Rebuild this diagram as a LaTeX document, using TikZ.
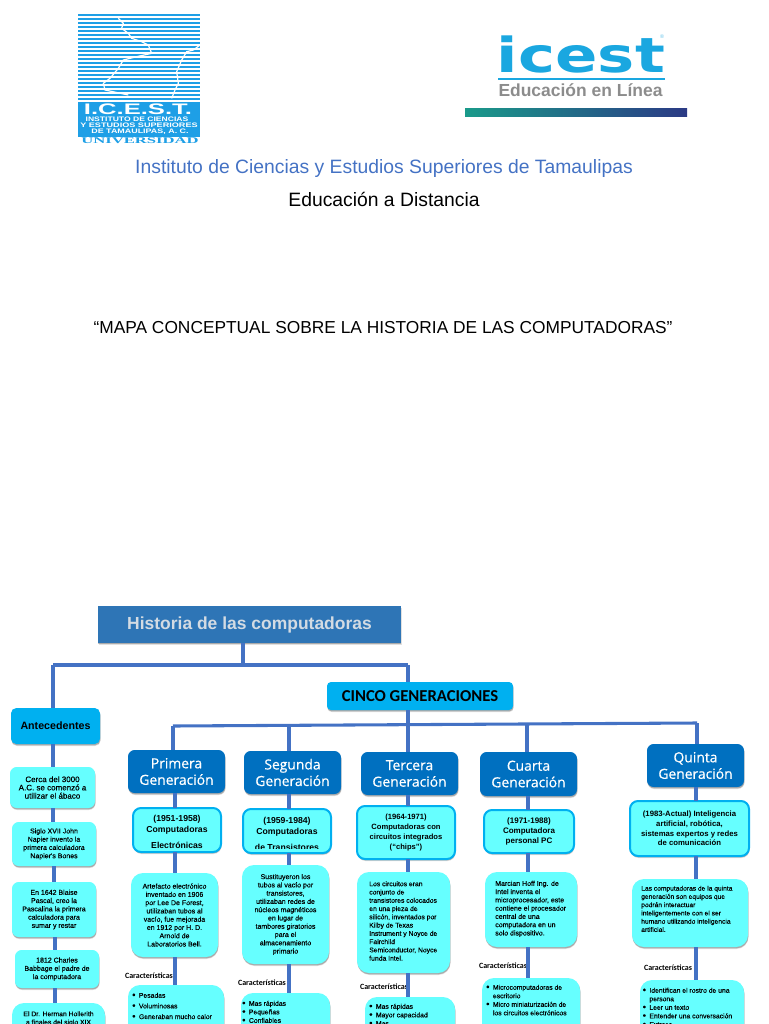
\documentclass[tikz,border=0pt]{standalone}
\usepackage{fontspec}
\usepackage{graphicx}
\setmainfont{Liberation Sans}
\newfontfamily\carl{Carlito}
\newfontfamily\nsans[RawFeature={embolden=0.5}]{Open Sans}
\newfontfamily\bodyf[RawFeature={embolden=0.25}]{Liberation Sans}
\newfontfamily\lserif{Liberation Serif}
\newfontfamily\heavy{DejaVu Sans}
\usetikzlibrary{shadows}
\definecolor{linkblue}{HTML}{4472C4}
\definecolor{skyb}{HTML}{00B0F0}
\definecolor{aqua}{HTML}{66FFFF}
\definecolor{genblue}{HTML}{0070C0}
\definecolor{headblue}{HTML}{2E75B6}
\definecolor{headtxt}{HTML}{D3DBE3}
\definecolor{logob}{HTML}{1E9FE6}
\definecolor{icestb}{HTML}{1AA7E0}
\definecolor{gradL}{HTML}{1A9A8A}
\definecolor{gradR}{HTML}{2B3A85}
\newcommand{\fs}[2]{\fontsize{#1}{#2}\selectfont}
\newcommand{\wh}[3]{\resizebox{#1pt}{#2pt}{#3}}
\newcommand{\bx}[7]{\node[#2,minimum width={(#5-#3)*0.75pt},minimum height={(#6-#4)*0.75pt}] (#1) at ({(#3+#5)/2},{(#4+#6)/2}) {#7};}
\newcommand{\bl}{\makebox[5pt][l]{\raisebox{-.2pt}{\scalebox{1.35}{\textbullet}}}}
\newcommand{\ind}{\hspace*{5pt}}
\tikzset{
 softshadow/.style={general shadow={shadow xshift=0.4pt,shadow yshift=-1.5pt,fill=black,opacity=.12},general shadow={shadow xshift=0.3pt,shadow yshift=-1pt,fill=black,opacity=.24}},
 conn/.style={draw=linkblue,line width=2.3pt},
 base/.style={inner sep=0pt,outer sep=0pt,align=center,softshadow},
 head/.style={base,fill=headblue,text=headtxt,font=\bfseries\fs{13.1}{14}},
 cinco/.style={base,fill=skyb,rounded corners=3pt,text=black,font=\carl\bfseries\fs{12.5}{13}},
 ante/.style={base,fill=skyb,rounded corners=4pt,text=black,font=\bfseries\fs{8}{10}},
 gen/.style={base,fill=genblue,rounded corners=5pt,text=white,font=\nsans\fs{10.4}{12.4}},
 period/.style={base,fill=aqua,draw=skyb,line width=1.5pt,rounded corners=6pt,text=black,font=\bfseries\fs{6.5}{7.3}},
 info/.style={base,fill=aqua,rounded corners=5pt,text=black,font=\bodyf\fs{5.25}{6.2}},
 infobig/.style={info,rounded corners=9pt},
 blocktxt/.style={inner sep=0pt,align=center,text=black},
 sidetxt/.style={inner sep=0pt,align=left,anchor=north west,text=black},
 listtxt/.style={sidetxt,font=\bodyf\fs{5.1}{6.4}},
 carac/.style={inner sep=0pt,text=black,font=\carl\bfseries\fs{6}{7}},
 title/.style={inner sep=0pt,font=\fs{14.5}{16}}
}
\begin{document}
\begin{tikzpicture}[x=0.75pt,y=-0.75pt]
\useasboundingbox (0,0) rectangle (768,1024);
\clip (0,0) rectangle (768,1024);
% left logo
\foreach \yy in {15,19,...,99} {\draw[logob,line width=1.75pt] (78,\yy) -- (200,\yy);}
\begin{scope}[shift={(60,0)},x=.25pt,y=-.25pt]
\draw[white,line width=.9pt] (175,55)--(190,70)--(185,85)--(205,100)--(215,115)--(245,125)--(265,135)--(275,160)--(230,170)--(190,180)--(175,205)--(150,235)--(130,250)--(135,270)--(205,285);
\draw[white,line width=.9pt] (420,135)--(400,150)--(380,155)--(365,180)--(350,215)--(355,250)--(345,270)--(335,295);
\end{scope}
\fill[logob] (78,102) rectangle (200,137);
\node[inner sep=0pt,text=white] (lgA) at (138,109) {\wh{81}{8}{\bfseries I.C.E.S.T.}};
\node[inner sep=0pt,text=white] (lgB) at (137,119) {\wh{77}{3.4}{\bfseries INSTITUTO DE CIENCIAS}};
\node[inner sep=0pt,text=white] (lgC) at (139,125.2) {\wh{88}{3.4}{\bfseries Y ESTUDIOS SUPERIORES}};
\node[inner sep=0pt,text=white] (lgD) at (140,131.5) {\wh{73}{3.4}{\bfseries DE TAMAULIPAS, A. C.}};
\node[inner sep=0pt,text=logob] (lgE) at (140,141) {\wh{88}{4.4}{\lserif\bfseries UNIVERSIDAD}};
% right logo
\node[inner sep=0pt,text=icestb] (icest) at (581,54.5) {\resizebox{126pt}{27.5pt}{\heavy\bfseries icest}};
\node[inner sep=0pt,text=icestb!70,font=\fs{4}{4}] (reg) at (662,37) {®};
\fill[icestb] (498,78) rectangle (665,80);
\node[inner sep=0pt,text=black!45] (edu) at (580.5,90.5) {\resizebox{123pt}{!}{\bfseries Educación en Línea}};
\shade[left color=gradL,right color=gradR] (465,108) rectangle (687,116);
% titles
\node[title,text=linkblue] (t1) at (384,169) {Instituto de Ciencias y Estudios Superiores de Tamaulipas};
\node[title,text=black] (t2) at (384,199) {Educación a Distancia};
\node[inner sep=0pt,text=black,font=\fs{13}{14}] (t3) at (383,328) {“MAPA CONCEPTUAL SOBRE LA HISTORIA DE LAS COMPUTADORAS”};
% diagram nodes
\bx{hist}{head}{98}{606}{401}{643}{\raisebox{-1.8pt}{Historia de las computadoras}}
\bx{cg}{cinco}{327}{682}{513}{710}{CINCO GENERACIONES}
\bx{an}{ante}{11}{708}{100}{744}{Antecedentes}
\bx{a1}{info}{10}{767}{95}{808}{\fs{6}{7.3}Cerca del 3000\\\fs{6}{7.3}A.C. se comenzó a\\\fs{6}{7.3}utilizar el ábaco}
\bx{a2}{info}{12}{822}{96}{866}{Siglo XVII John\\Napier invento la\\primera calculadora\\Napier's Bones}
\bx{a3}{info}{12}{882}{96}{937}{En 1642 Blaise\\Pascal, creo la\\Pascalina la primera\\calculadora para\\sumar y restar}
\bx{a4}{info}{15}{950}{99}{988}{1812 Charles\\Babbage el padre de\\la computadora}
\bx{a5}{infobig}{12}{1003}{105}{1060}{}
\node[blocktxt,anchor=north,font=\bodyf\fs{5.1}{6.2}] (a5t) at (58.5,1011) {El Dr. Herman Hollerith\\a finales del siglo XIX};
% generation 1
\bx{g1}{gen}{128}{750}{225}{793}{Primera\\Generación}
\bx{p1}{period}{133}{808}{221}{852}{}
\begin{scope}
\clip (133,808) rectangle (221,848);
\node[blocktxt,anchor=north,font=\bfseries\fs{6.5}{8}] (p1t) at (177,815) {(1951-1958)\\Computadoras\\[4pt]Electrónicas};
\end{scope}
\bx{d1}{infobig}{131}{873}{218}{957}{Artefacto electrónico\\inventado en 1906\\por Lee De Forest,\\utilizaban tubos al\\vacío, fue mejorada\\en 1912 por H. D.\\Arnold de\\Laboratorios Bell.}
\bx{l1}{infobig}{128}{985}{224}{1060}{}
\node[listtxt] (l1t) at (132,992.5) {\bl Pesadas\\[1.6pt]\bl Voluminosas\\[1.6pt]\bl Generaban mucho calor};
\node[carac] (c1) at (149,976) {Características};
% generation 2
\bx{g2}{gen}{244}{751}{341}{794}{Segunda\\Generación}
\bx{p2}{period}{243}{809}{331}{853}{}
\begin{scope}
\clip (243,809) rectangle (331,848);
\node[blocktxt,anchor=north,font=\bfseries\fs{6.5}{8}] (p2t) at (287,817) {(1959-1984)\\Computadoras\\[4pt]de Transistores};
\end{scope}
\bx{d2}{infobig}{242}{865}{329}{964}{Sustituyeron los\\tubos al vacío por\\transistores,\\utilizaban redes de\\núcleos magnéticos\\en lugar de\\tambores giratorios\\para el\\almacenamiento\\primario}
\bx{l2}{infobig}{241}{993}{330}{1060}{}
\node[listtxt] (l2t) at (242,1000.5) {\bl Mas rápidas\\\bl Pequeñas\\\bl Confiables};
\node[carac] (c2) at (262,983) {Características};
% generation 3
\bx{g3}{gen}{361}{752}{458}{795}{Tercera\\Generación}
\bx{p3}{period}{357}{806}{455}{859}{\fs{5.7}{7.2}(1964-1971)\\\fs{5.7}{7.2}Computadoras con\\\fs{5.7}{7.2}circuitos integrados\\\fs{5.7}{7.2}(“chips”)}
\bx{d3}{infobig}{357}{872}{450}{973}{}
\node[sidetxt,font=\bodyf\fs{5.1}{6.2}] (d3t) at (369,881) {Los circuitos eran\\conjunto de\\transistores colocados\\en una pieza de\\silicón, inventados por\\Kilby de Texas\\Instrument y Noyce de\\Fairchild\\Semiconductor, Noyce\\funda Intel.};
\bx{l3}{infobig}{365}{997}{455}{1060}{}
\node[listtxt] (l3t) at (369,1003.5) {\bl Mas rápidas\\\bl Mayor capacidad\\\bl Mas};
\node[carac] (c3) at (384,987) {Características};
% generation 4
\bx{g4}{gen}{480}{752}{577}{796}{Cuarta\\Generación}
\bx{p4}{period}{484}{810}{574}{853}{\fs{6}{7.3}(1971-1988)\\\fs{6}{7.3}Computadora\\\fs{6}{7.3}personal PC}
\bx{d4}{infobig}{485}{872}{577}{947}{}
\node[sidetxt,font=\bodyf\fs{5.25}{6.2}] (d4t) at (495,880.5) {Marcian Hoff Ing. de\\Intel inventa el\\microprocesador, este\\contiene el procesador\\central de una\\computadora en un\\solo dispositivo.};
\bx{l4}{infobig}{482}{978}{580}{1060}{}
\node[listtxt] (l4t) at (486,984.5) {\bl Microcomputadoras de\\\ind escritorio\\\bl Micro miniaturización de\\\ind los circuitos electrónicos};
\node[carac] (c4) at (503,966) {Características};
% generation 5
\bx{g5}{gen}{647}{744}{744}{787}{Quinta\\Generación}
\bx{p5}{period}{630}{801}{749}{856}{\fs{5.8}{7.2}(1983-Actual) Inteligencia\\\fs{5.8}{7.2}artificial, robótica,\\\fs{5.8}{7.2}sistemas expertos y redes\\\fs{5.8}{7.2}de comunicación}
\bx{d5}{infobig}{632}{879}{748}{947}{}
\node[sidetxt,font=\bodyf\fs{5}{6.2}] (d5t) at (641,885.5) {Las computadoras de la quinta\\generación son equipos que\\podrán interactuar\\inteligentemente con el ser\\humano utilizando inteligencia\\artificial.};
\bx{l5}{infobig}{640}{980}{744}{1060}{}
\node[listtxt] (l5t) at (642.5,987.5) {\bl Identifican el rostro de una\\\ind persona\\\bl Leer un texto\\\bl Entender una conversación\\\bl Extraer};
\node[carac] (c5) at (668,968) {Características};
% rails
\coordinate (rH) at (243,665);
\coordinate (rL) at (53,665);
\coordinate (rR) at (408,665);
\coordinate (s0) at (173,726);
\coordinate (s1) at (289,725.5);
\coordinate (s2) at (408,725);
\coordinate (s3) at (527,724.5);
\coordinate (s4) at (697,723);
\coordinate (v1) at (175,0);
\coordinate (v2) at (289,0);
\coordinate (v3) at (408,0);
\coordinate (v4) at (528,0);
\coordinate (v5) at (696,0);
\draw[conn] (rH |- hist.south) -- (rH);
\draw[conn] (rL) -- (rR);
\draw[conn] (rL) -- (rL |- an.north);
\draw[conn] (rR) -- (rR |- cg.north);
\draw[conn] (rR |- cg.south) -- (s2);
\draw[conn] (s0) -- (s4);
\draw[conn] (s0) -- (s0 |- g1.north);
\draw[conn] (s1) -- (s1 |- g2.north);
\draw[conn] (s2) -- (s2 |- g3.north);
\draw[conn] (s3) -- (s3 |- g4.north);
\draw[conn] (s4) -- (s4 |- g5.north);
% antecedentes chain
\draw[conn] (rL |- an.south) -- (rL |- a1.north);
\draw[conn] (rL |- a1.south) -- (rL |- a2.north);
\coordinate (v0) at (54,0);
\draw[conn] (v0 |- a2.south) -- (v0 |- a3.north);
\coordinate (v00) at (55,0);
\draw[conn] (v00 |- a3.south) -- (v00 |- a4.north);
\draw[conn] (v00 |- a4.south) -- (v00 |- a5.north);
% generation chains
\draw[conn] (v1 |- g1.south) -- (v1 |- p1.north);
\draw[conn] (v1 |- p1.south) -- (v1 |- d1.north);
\draw[conn] (v1 |- d1.south) -- (v1 |- l1.north);
\draw[conn] (v2 |- g2.south) -- (v2 |- p2.north);
\draw[conn] (v2 |- p2.south) -- (v2 |- d2.north);
\draw[conn] (v2 |- d2.south) -- (v2 |- l2.north);
\draw[conn] (v3 |- g3.south) -- (v3 |- p3.north);
\draw[conn] (v3 |- p3.south) -- (v3 |- d3.north);
\draw[conn] (v3 |- d3.south) -- (v3 |- l3.north);
\draw[conn] (v4 |- g4.south) -- (v4 |- p4.north);
\draw[conn] (v4 |- p4.south) -- (v4 |- d4.north);
\draw[conn] (v4 |- d4.south) -- (v4 |- l4.north);
\draw[conn] (v5 |- g5.south) -- (v5 |- p5.north);
\draw[conn] (v5 |- p5.south) -- (v5 |- d5.north);
\draw[conn] (v5 |- d5.south) -- (v5 |- l5.north);
\end{tikzpicture}
\end{document}
